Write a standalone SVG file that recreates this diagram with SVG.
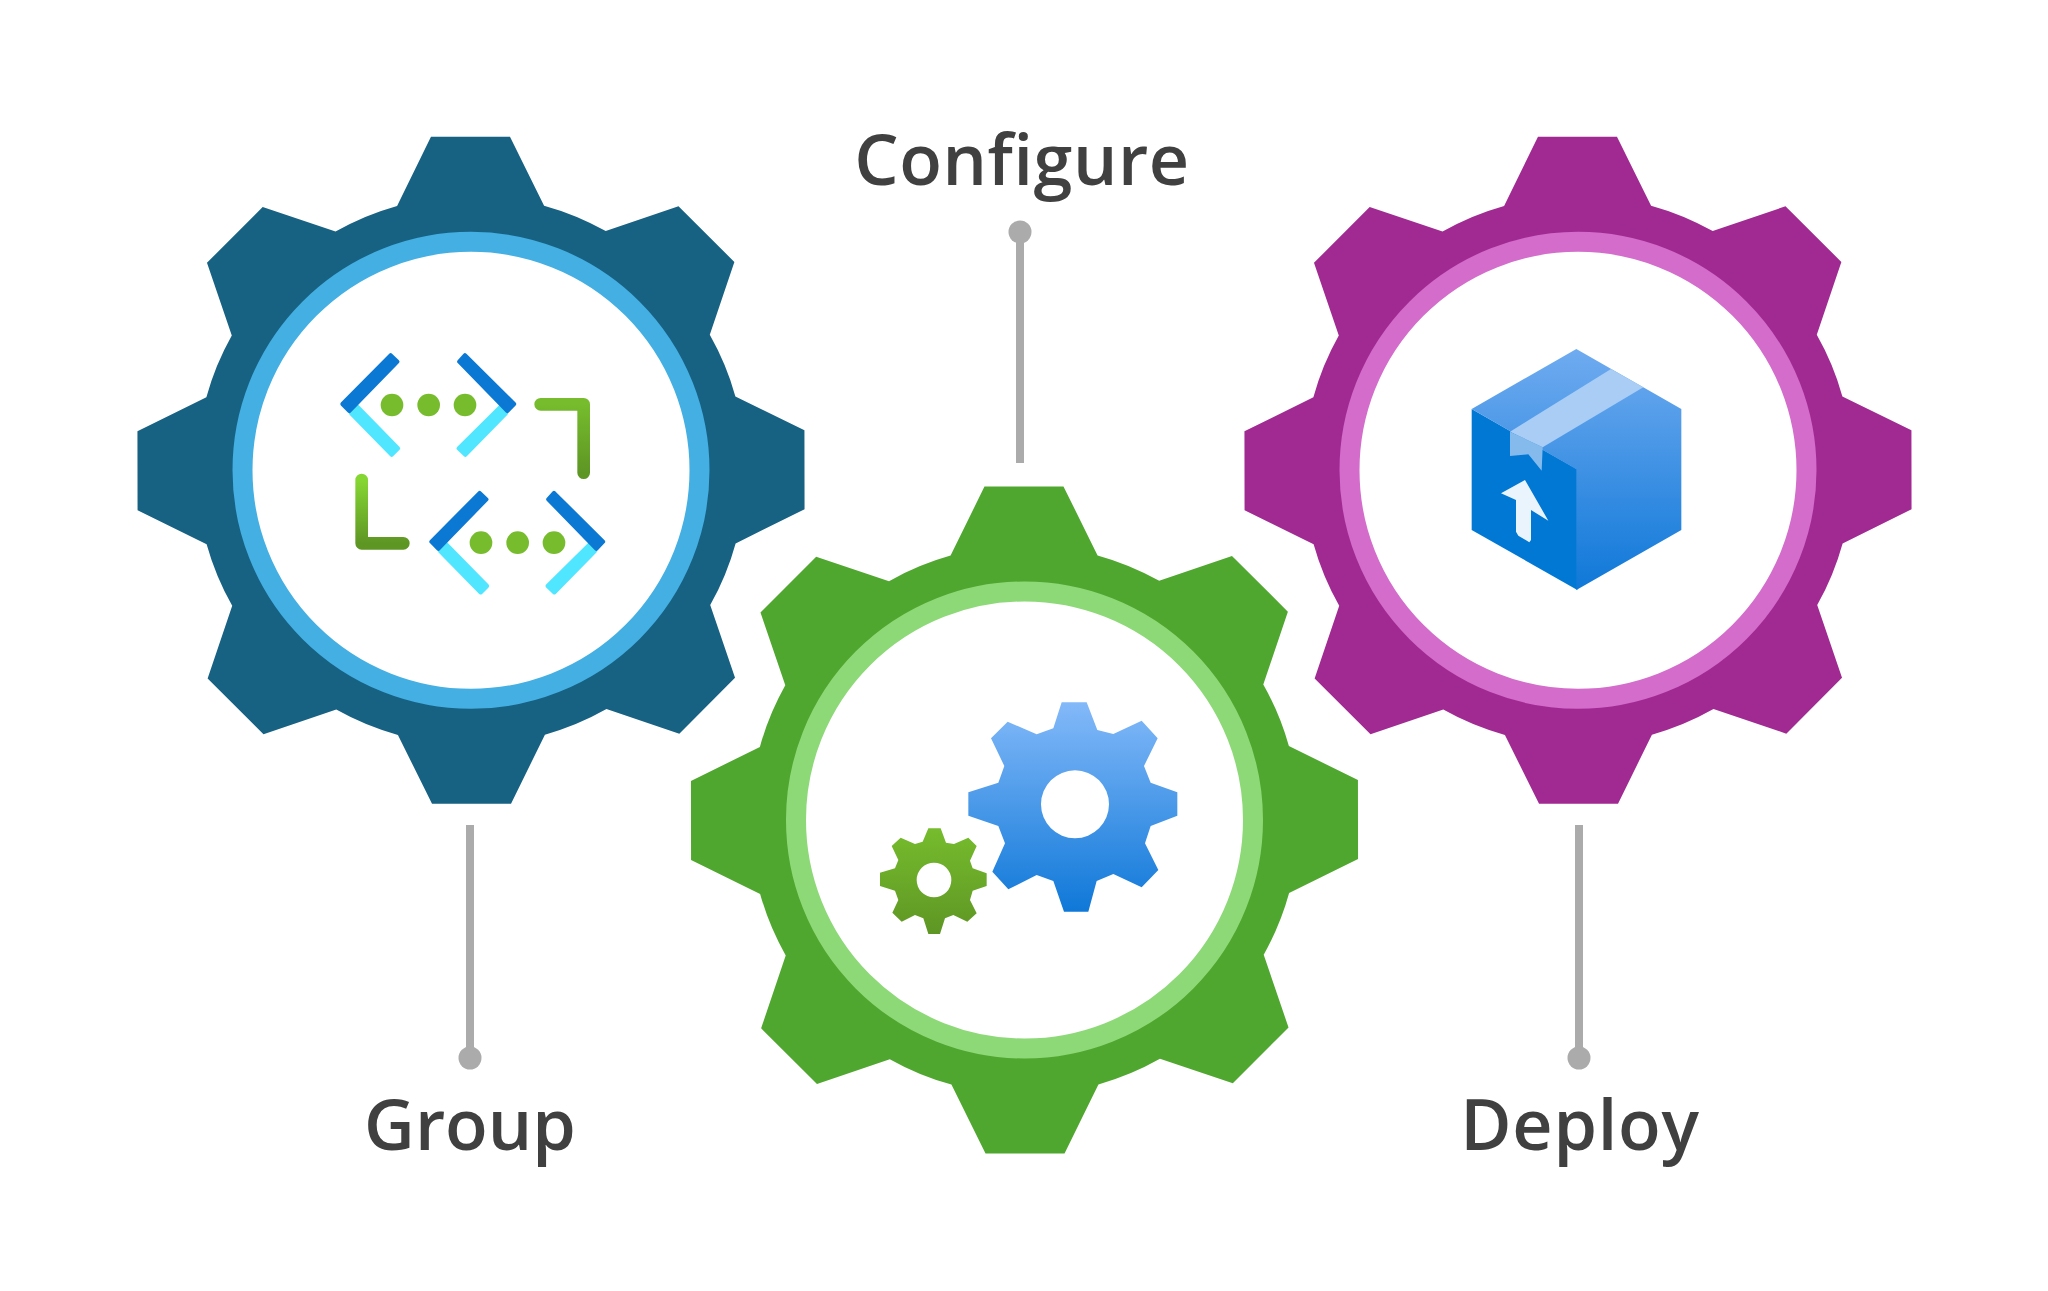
<svg xmlns="http://www.w3.org/2000/svg" xmlns:xlink="http://www.w3.org/1999/xlink" width="2048" height="1291" viewBox="0 0 2048 1291">
<style>
.label{font-family:"Open Sans","Noto Sans",sans-serif;font-size:70px;font-weight:600;fill:#404040;text-anchor:middle}
.conn{stroke:#ababab;stroke-width:8;fill:none}
.dot{fill:#ababab}
.hole{fill:#fff;stroke-width:20}
.dk{fill:#0b78d4;stroke:#0b78d4;stroke-width:12;stroke-linejoin:round}
.lt{fill:#50e6ff;stroke:#50e6ff;stroke-width:12;stroke-linejoin:round}
.gd{fill:#76bc2d}
</style>
<defs>
<path id="gear" d="M-39.5-333.5H39.5L73.5-264.5A274.5 274.5 0 0 1 135.1-239L207.9-263.7L263.7-207.9L239-135.1A274.5 274.5 0 0 1 264.5-73.5L333.5-39.5V39.5L264.5 73.5A274.5 274.5 0 0 1 239 135.1L263.7 207.9L207.9 263.7L135.1 239A274.5 274.5 0 0 1 73.5 264.5L39.5 333.5H-39.5L-73.5 264.5A274.5 274.5 0 0 1-135.1 239L-207.9 263.7L-263.7 207.9L-239 135.1A274.5 274.5 0 0 1-264.5 73.5L-333.5 39.5V-39.5L-264.5-73.5A274.5 274.5 0 0 1-239-135.1L-263.7-207.9L-207.9-263.7L-135.1-239A274.5 274.5 0 0 1-73.5-264.5Z"/>
<linearGradient id="g1" x1="0" y1="0" x2="0" y2="1"><stop offset="0" stop-color="#76bc2d"/><stop offset="1" stop-color="#5e9624"/></linearGradient>
<linearGradient id="g2" x1="0" y1="0" x2="0" y2="1"><stop offset="0" stop-color="#86d633"/><stop offset="1" stop-color="#5e9624"/></linearGradient>
<linearGradient id="b1" gradientUnits="userSpaceOnUse" x1="0" y1="67" x2="0" y2="695"><stop offset="0" stop-color="#83b9f9"/><stop offset="1" stop-color="#0f78d8"/></linearGradient>
<linearGradient id="g3" gradientUnits="userSpaceOnUse" x1="0" y1="445" x2="0" y2="762"><stop offset="0" stop-color="#76bc2d"/><stop offset="1" stop-color="#5e9624"/></linearGradient>
<linearGradient id="b2" gradientUnits="userSpaceOnUse" x1="0" y1="57" x2="0" y2="780"><stop offset="0" stop-color="#6fabf0"/><stop offset="1" stop-color="#0f78d8"/></linearGradient>
<g id="chev">
<polygon class="lt" points="153,280 170,258 294.5,385 275,404.5"/>
<polygon class="lt" points="604,258 618,280 496,404.5 475.5,385"/>
<polygon class="dk" points="127,252 272,105.5 292.5,125 148,273.5"/>
<polygon class="dk" points="477.5,125 495,105.5 642.5,252 622,273.5"/>
<circle class="gd" cx="276" cy="255" r="34"/><circle class="gd" cx="386" cy="255" r="34"/><circle class="gd" cx="495" cy="255" r="34"/>
</g>
</defs>

<g id="connectors">
<path class="conn" d="M470 825V1058"/><circle class="dot" cx="470" cy="1058" r="11.5"/>
<path class="conn" d="M1020 463V232"/><circle class="dot" cx="1020" cy="232" r="11.5"/>
<path class="conn" d="M1579 825V1058"/><circle class="dot" cx="1579" cy="1058" r="11.5"/>
</g>

<g id="node-group">
<use xlink:href="#gear" href="#gear" transform="translate(471 470.3) rotate(-.09)" fill="#176183"/>
<circle class="hole" cx="471" cy="470.3" r="228.5" stroke="#44afe2"/>
<g id="icon-group" transform="translate(300 320) scale(.33333)">
<use xlink:href="#chev" href="#chev"/>
<use xlink:href="#chev" href="#chev" x="267" y="413"/>
<path d="M722 253H851V458" fill="none" stroke="url(#g1)" stroke-width="38" stroke-linecap="round" stroke-linejoin="round"/>
<path d="M185 480V670H310" fill="none" stroke="url(#g2)" stroke-width="38" stroke-linecap="round" stroke-linejoin="round"/>
</g>
<text class="label" x="470" y="1150">Group</text>
</g>

<g id="node-configure">
<use xlink:href="#gear" href="#gear" transform="translate(1024.5 820) rotate(-.09)" fill="#50a72f"/>
<circle class="hole" cx="1024.5" cy="820" r="228.5" stroke="#8dd977"/>
<g id="icon-configure" transform="translate(860 680) scale(.33333)">
<path fill="url(#b1)" fill-rule="evenodd" d="M605 67H680L712 150L760 162L845 122L893 175L852 258L872 308L952 337V407L872 438L855 490L895 570L845 622L760 582L710 603L685 695H612L580 603L530 585L445 628L397 575L435 490L415 438L325 407V337L415 308L433 258L393 175L443 125L530 163L580 145ZM747 373A102 102 0 1 0 543 373A102 102 0 1 0 747 373Z"/>
<path fill="url(#g3)" fill-rule="evenodd" d="M205 445H242L258 488L282 492L325 473L350 498L330 542L338 565L380 580V618L338 632L330 660L350 700L322 725L280 705L255 715L240 762H205L190 715L165 705L125 725L97 698L115 660L105 632L60 618V578L105 565L115 540L95 498L122 473L165 492L188 485ZM274 600A52 52 0 1 0 170 600A52 52 0 1 0 274 600Z"/>
</g>
<text class="label" x="1022" y="185" letter-spacing=".6">Configure</text>
</g>

<g id="node-deploy">
<use xlink:href="#gear" href="#gear" transform="translate(1578 470.3) rotate(-.09)" fill="#a12a92"/>
<circle class="hole" cx="1578" cy="470.3" r="228.5" stroke="#d36cca"/>
<g id="icon-deploy" transform="translate(1450 330) scale(.33333)">
<polygon fill="#0078d4" points="65,237 382,418 382,780 65,600"/>
<polygon fill="url(#b2)" points="379,57 694,237 694,600 379,780 379,418 65,237"/>
<polygon fill="#a9cdf5" points="483,117 580,172 278,352 180,305"/>
<polygon fill="#84bbec" points="180,305 278,352 275,422 235,373 180,378"/>
<polygon fill="#eaf4fc" points="225,450 295,572 243,540 243,630 238,637 205,617 198,605 198,510 153,490"/>
</g>
<text class="label" x="1580" y="1150" letter-spacing=".8">Deploy</text>
</g>
</svg>
